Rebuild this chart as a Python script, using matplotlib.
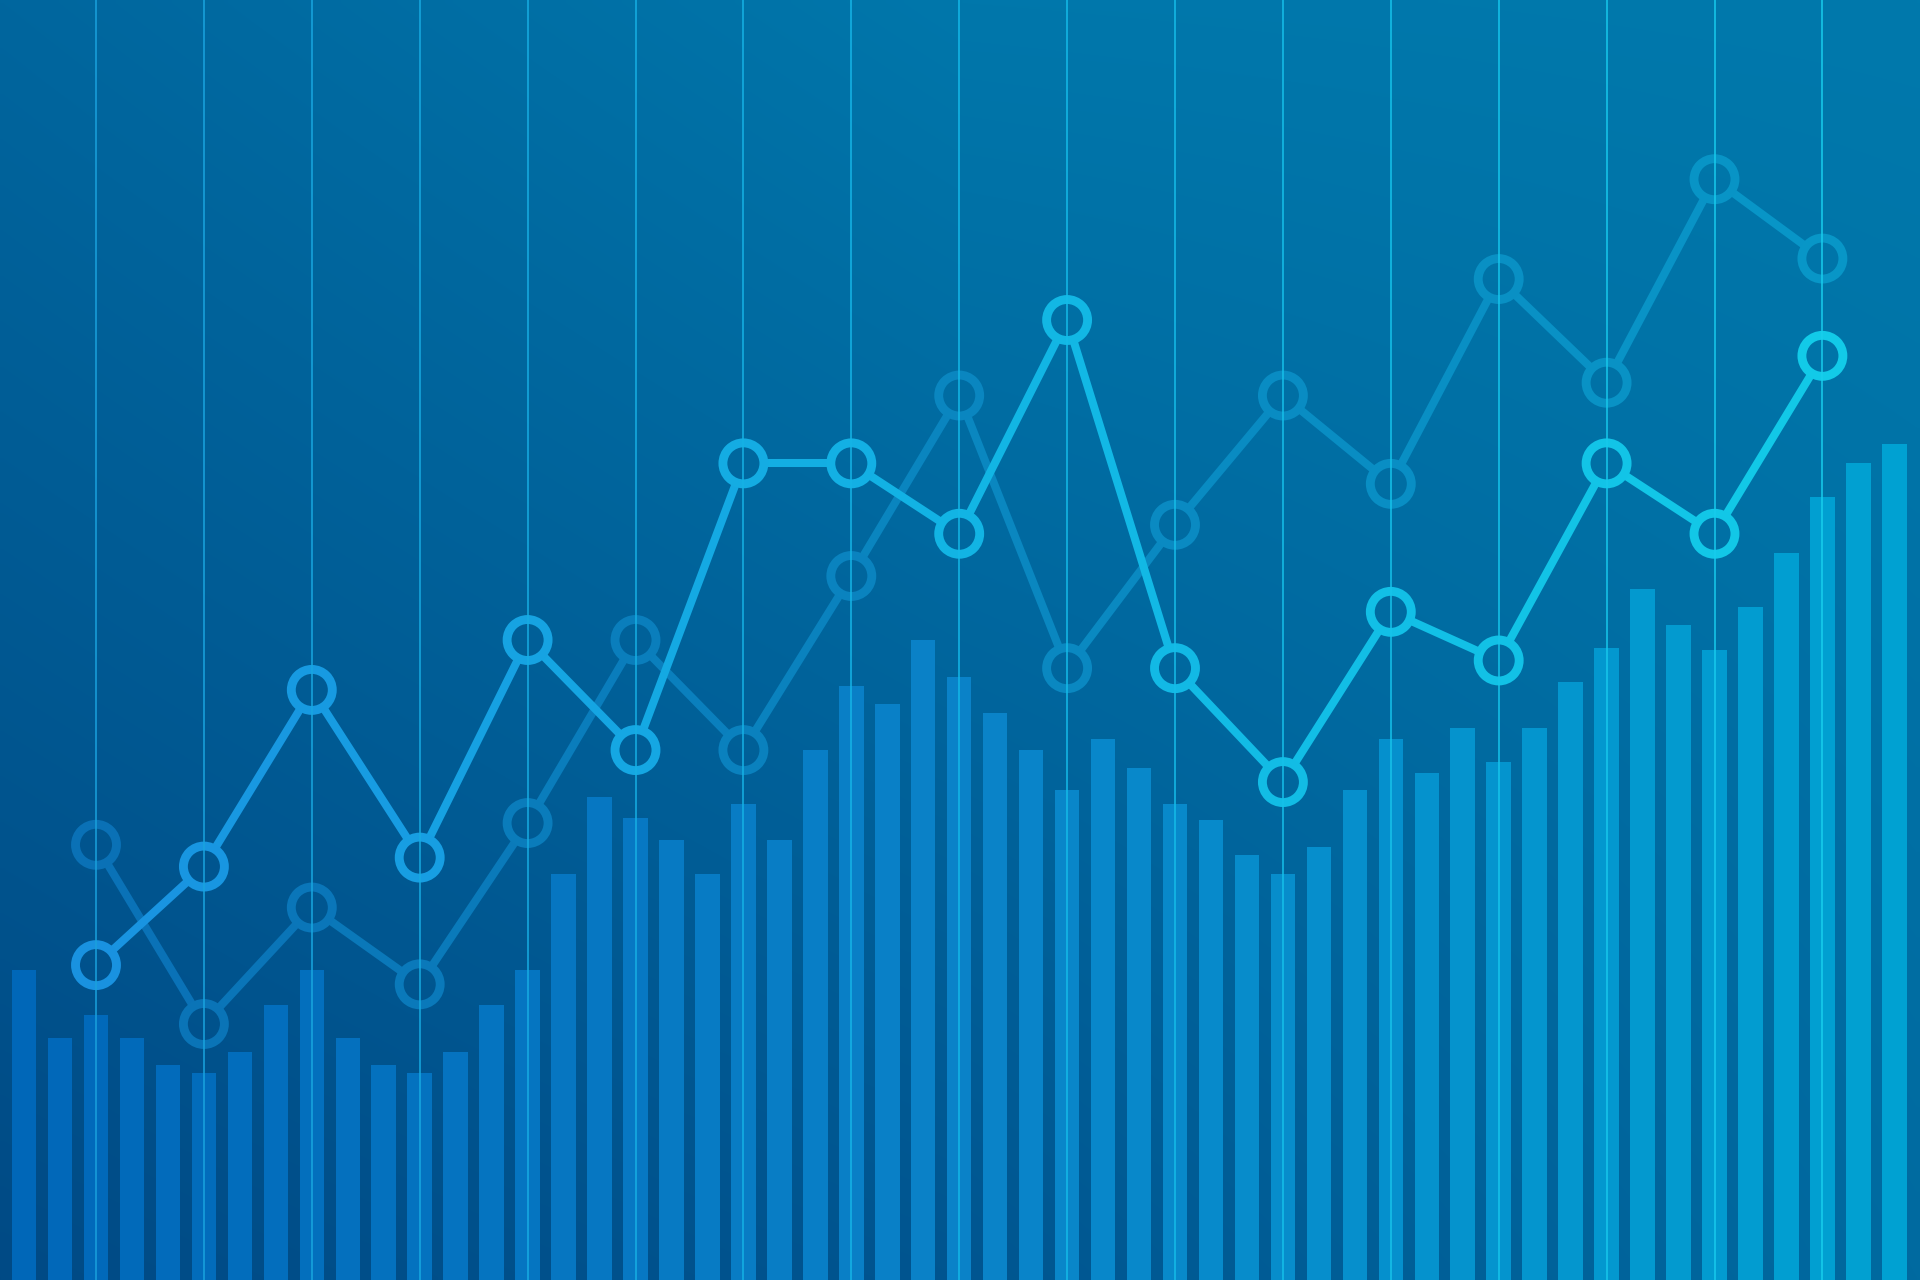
import numpy as np
import matplotlib
from matplotlib import pyplot as plt
from matplotlib.collections import LineCollection
from matplotlib.colors import LinearSegmentedColormap, to_rgb

matplotlib.use("Agg")

# Data (y in percent of chart height, x in grid steps)
points_x = np.arange(1, 18)
front_values = [24.6, 32.3, 46.1, 33.0, 50.0, 41.4, 63.8, 63.8, 58.3,
                75.0, 47.8, 38.9, 52.2, 48.4, 63.8, 58.3, 72.2]
back_values = [34.0, 20.0, 29.1, 23.1, 35.7, 50.0, 41.4, 55.0, 69.1,
               47.8, 59.0, 69.1, 62.2, 78.2, 70.1, 86.0, 79.8]

bars_x = np.arange(1, 54) / 3
bar_values = [24.2, 18.9, 20.7, 18.9, 16.8, 16.2, 17.8, 21.5, 24.2, 18.9,
              16.8, 16.2, 17.8, 21.5, 24.2, 31.7, 37.7, 36.1, 34.4, 31.7,
              37.2, 34.4, 41.4, 46.4, 45.0, 50.0, 47.1, 44.3, 41.4, 38.3,
              42.3, 40.0, 37.2, 35.9, 33.2, 31.7, 33.8, 38.3, 42.3, 39.6,
              43.1, 40.5, 43.1, 46.7, 49.4, 54.0, 51.2, 49.2, 52.6, 56.8,
              61.2, 63.8, 65.3]

# Style
W, H, DPI = 1920, 1280, 100
BG_TOP = ["#00669e", "#0077ab", "#0079ac"]
BG_BOTTOM = ["#004a85", "#005590", "#006aa0"]
bar_cmap = LinearSegmentedColormap.from_list("bars", ["#0066b8", "#0a82c8", "#00a2d2"])
front_cmap = LinearSegmentedColormap.from_list("front", ["#1a8ee0", "#12b4e4", "#12cce8"])
back_cmap = LinearSegmentedColormap.from_list("back", ["#0a6fb5", "#0a86c0", "#0898c8"])
grid_cmap = LinearSegmentedColormap.from_list("grid", ["#1a9fdc", "#14b8e8", "#18d0ee"])

fig = plt.figure(figsize=(W / DPI, H / DPI), dpi=DPI)
ax = fig.add_axes([0, 0, 1, 1])
ax.set_axis_off()
x0, x1 = 1 - 96 / 107.9, 1 + (W - 96) / 107.9
ax.set_xlim(x0, x1)
ax.set_ylim(0, 100)


def xpos(x):
    return (np.asarray(x) - x0) / (x1 - x0)


# background gradient
u = np.linspace(0, 1, 320)
v = np.linspace(0, 1, 220)[:, None, None]
stops = [0, 0.5, 1]
top = np.stack([np.interp(u, stops, [to_rgb(c)[k] for c in BG_TOP]) for k in range(3)], -1)
bottom = np.stack([np.interp(u, stops, [to_rgb(c)[k] for c in BG_BOTTOM]) for k in range(3)], -1)
bg = top[None] * (1 - v) + bottom[None] * v
ax.imshow(bg, extent=(x0, x1, 0, 100), aspect="auto", interpolation="bilinear", zorder=0)

# bars
ax.bar(bars_x, bar_values, width=0.227, color=bar_cmap(xpos(bars_x)), zorder=2)


def draw_series(values, cmap, z, gap=20):
    pts = ax.transData.transform(np.column_stack([points_x, values]))
    inv = ax.transData.inverted()
    segs = []
    for p, q in zip(pts[:-1], pts[1:]):
        d = (q - p) / np.hypot(*(q - p))
        segs.append(inv.transform([p + d * gap, q - d * gap]))
    mids = (points_x[:-1] + points_x[1:]) / 2
    lc = LineCollection(segs, colors=front_cmap(0) if cmap is None else cmap(xpos(mids)),
                        linewidths=5.8, capstyle="butt", zorder=z)
    ax.add_collection(lc)
    ax.scatter(points_x, values, s=29.5 ** 2, facecolors="none",
               edgecolors=cmap(xpos(points_x)), linewidths=6.4, zorder=z)


draw_series(back_values, back_cmap, 3)
draw_series(front_values, front_cmap, 4)

# vertical grid lines on top
for x in points_x:
    ax.axvline(x, color=grid_cmap(xpos(x)), lw=1.1, zorder=6)

fig.savefig("out.png", dpi=DPI)
